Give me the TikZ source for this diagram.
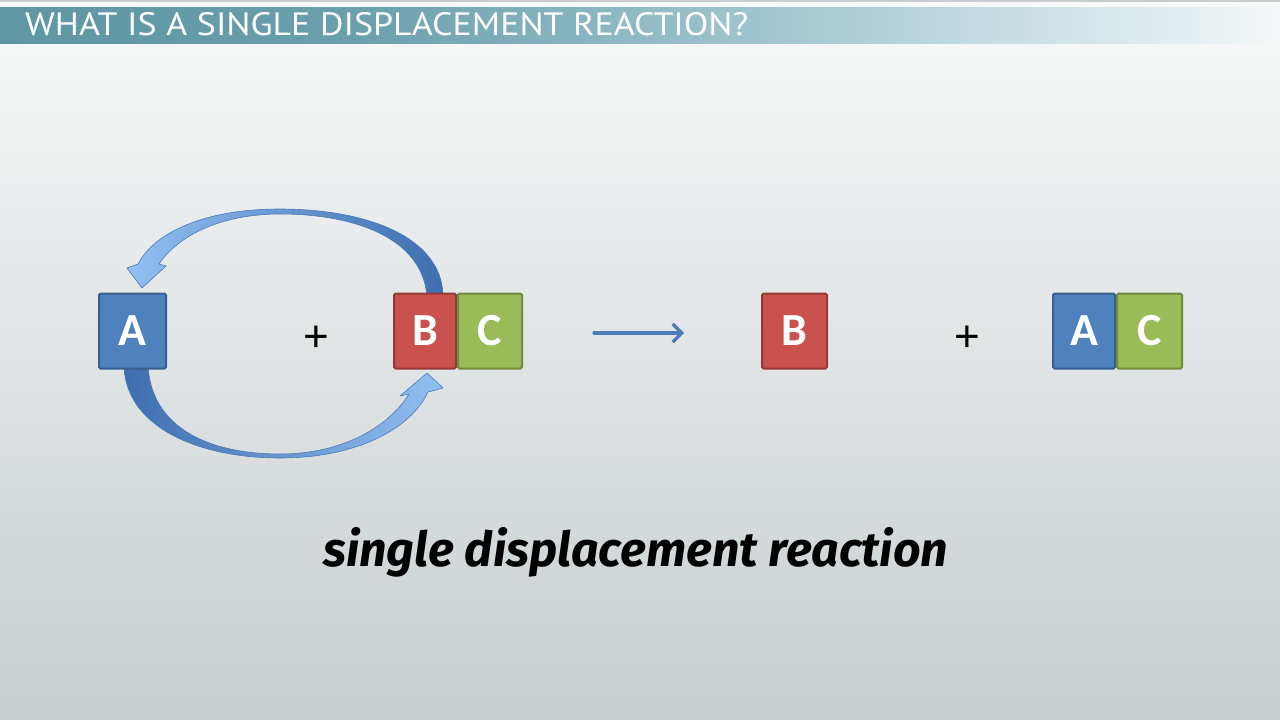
\documentclass[tikz,border=0pt]{standalone}
\usepackage{graphicx}
\usepackage{fontspec}
\setmainfont{Carlito}
\newfontfamily\titlefont{PT Sans}
\newfontfamily\bottomfont{Fira Sans}
\newfontfamily\plusfont{Liberation Sans}
\usetikzlibrary{arrows.meta}
\definecolor{bgtop}{HTML}{F8F9F9}
\definecolor{bgmid}{HTML}{E4E8E9}
\definecolor{bgbot}{HTML}{C7CED0}
\definecolor{topline}{HTML}{C9CDCE}
\definecolor{tba}{HTML}{5E96A4}
\definecolor{tbb}{HTML}{6A9FAD}
\definecolor{tbc}{HTML}{A6C9D2}
\definecolor{tbd}{HTML}{CFE2E7}
\definecolor{tbe}{HTML}{F3F7F8}
\definecolor{blueF}{HTML}{4F81BD}
\definecolor{blueD}{HTML}{385F8E}
\definecolor{redF}{HTML}{C9524E}
\definecolor{redD}{HTML}{943B38}
\definecolor{greenF}{HTML}{9BBB59}
\definecolor{greenD}{HTML}{718A3F}
\definecolor{arrowblue}{HTML}{4A7EBB}
\definecolor{lightblue}{HTML}{92C0F2}
\definecolor{darkblue}{HTML}{3E6EAF}
\definecolor{edgeblue}{HTML}{4A7AB8}
\begin{document}
\begin{tikzpicture}[x=1pt,y=-1pt,
  elem/.style={rectangle, line width=2pt, rounded corners=1.5pt, inner sep=0pt,
    text=white, font=\fontsize{46}{46}\selectfont\bfseries,
    text height=29.6pt, text depth=0pt, minimum height=75pt},
  blueel/.style={elem, fill=blueF, draw=blueD},
  redel/.style={elem, fill=redF, draw=redD},
  greenel/.style={elem, fill=greenF, draw=greenD},
  plussign/.style={anchor=base, inner sep=0pt, text=black,
    font=\plusfont\fontsize{44}{44}\selectfont},
  reactarrow/.style={line width=3.2pt, draw=arrowblue, line cap=round,
    -{Straight Barb[length=9pt,width=18pt]}},
  bentarrow/.style={draw=edgeblue, line width=0.6pt, line join=round}
]
\useasboundingbox (0,0) rectangle (1280,720);
% background
\shade[top color=bgtop, middle color=bgmid, bottom color=bgbot] (0,0) rectangle (1280,720);
\fill[topline] (0,0) rectangle (1280,2);
% title bar
\shade[left color=tba, right color=tbb] (0,7) rectangle (350.5,43);
\shade[left color=tbb, right color=tbc] (350,7) rectangle (800.5,43);
\shade[left color=tbc, right color=tbd] (800,7) rectangle (1050.5,43);
\shade[left color=tbd, right color=tbe] (1050,7) rectangle (1280,43);
\node[anchor=base west, inner sep=0pt, text=white] (title) at (25,35)
  {\resizebox{723pt}{23pt}{\titlefont WHAT IS A SINGLE DISPLACEMENT REACTION?}};
% curved arrows
\shade[bentarrow, left color=lightblue, right color=darkblue]
  (443,296) .. controls (442,236) and (365,209) .. (280,209)
  .. controls (205,209) and (155,232) .. (138,264)
  -- (127,268) -- (142,288) -- (166,266) -- (159,264)
  .. controls (178,236) and (220,214) .. (280,214)
  .. controls (355,214) and (422,238) .. (427,296) -- cycle;
\shade[bentarrow, left color=darkblue, right color=lightblue]
  (124,364) .. controls (124,425) and (195,458) .. (280,458)
  .. controls (355,458) and (410,430) .. (428,392)
  -- (443,388) -- (427,373) -- (400,396) -- (409,394)
  .. controls (390,425) and (345,454) .. (280,454)
  .. controls (205,454) and (150,425) .. (148,364) -- cycle;
% reactants
\node[blueel, minimum width=67pt] (A1) at (132.5,331) {A};
\node[plussign] (p1) at (316,351) {+};
\node[redel, minimum width=62pt] (B1) at (425,331) {B};
\node[greenel, minimum width=64pt] (C1) at (490,331) {C};
% reaction arrow
\coordinate (r0) at (594,333);
\coordinate (r1) at (684,333);
\draw[reactarrow] (r0) -- (r1);
% products
\node[redel, minimum width=65pt] (B2) at (794.5,331) {B};
\node[plussign] (p2) at (967,351) {+};
\node[blueel, minimum width=62pt] (A2) at (1084,331) {A};
\node[greenel, minimum width=65pt] (C2) at (1149.5,331) {C};
% caption
\node[anchor=base west, inner sep=0pt, text=black] (caption) at (323,566)
  {\resizebox{625pt}{39pt}{\bottomfont\bfseries\itshape single displacement reaction}};
\end{tikzpicture}
\end{document}
